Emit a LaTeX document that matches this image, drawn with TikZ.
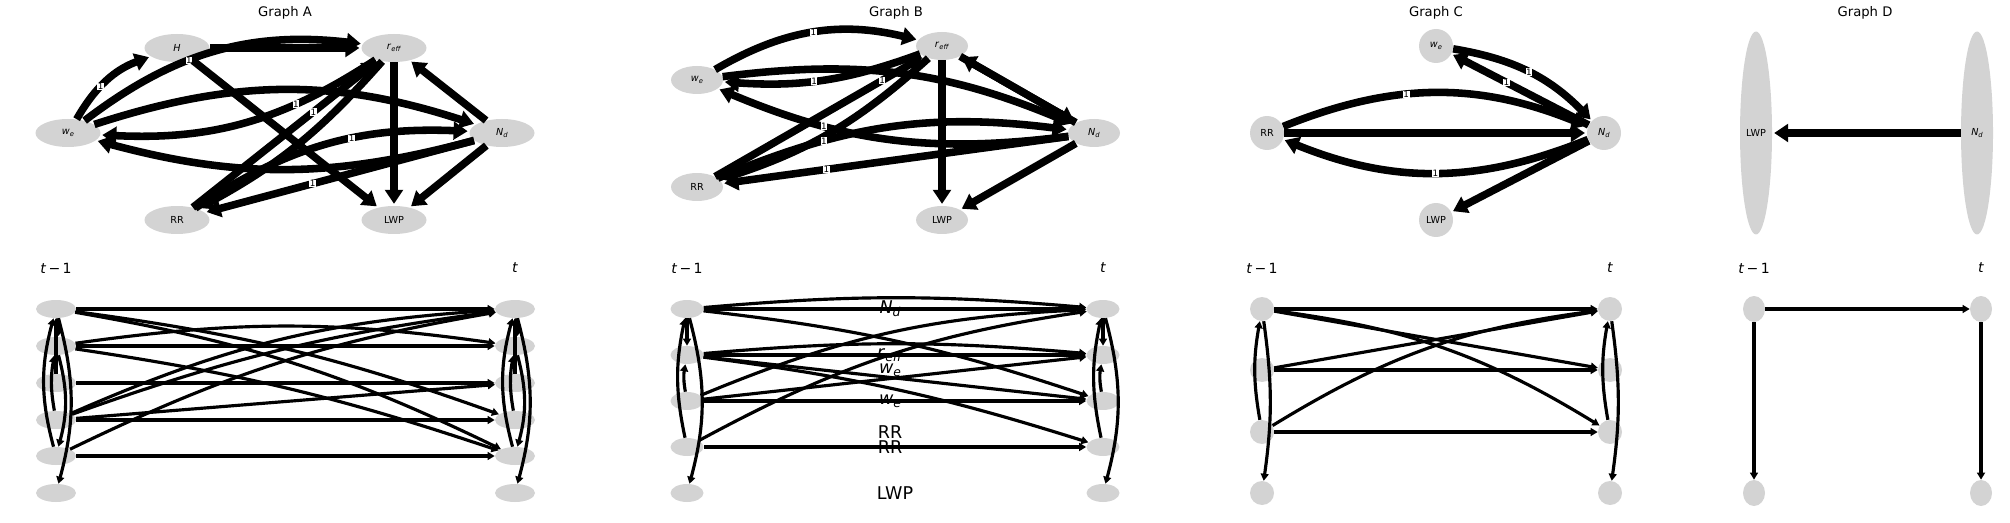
\documentclass[tikz,border=0pt]{standalone}
\usepackage{fontspec}
\setmainfont{DejaVu Sans}
\usetikzlibrary{arrows.meta,shapes.geometric}
\definecolor{ng}{RGB}{211,211,211}
\newcommand{\vsub}[2]{\textit{#1}\raisebox{-0.35ex}{\fontsize{0.7em}{1em}\selectfont\textit{#2}}}
\newcommand{\tm}{\textit{t}\,−\,1}
\tikzset{
 nd/.style={ellipse,fill=ng,inner sep=0pt,minimum width=1.3cm,minimum height=0.56cm,font=\fontsize{5.5}{6}\selectfont},
 cn/.style={circle,fill=ng,inner sep=0pt,minimum size=0.68cm,font=\fontsize{5.5}{6}\selectfont},
 sn/.style={ellipse,fill=ng,inner sep=0pt,minimum width=0.8cm,minimum height=0.36cm},
 scn/.style={circle,fill=ng,inner sep=0pt,minimum size=0.48cm},
 ttl/.style={font=\fontsize{7.5}{9}\selectfont},
 tl/.style={font=\fontsize{8}{9}\selectfont},
 ml/.style={font=\fontsize{10}{11}\selectfont},
 big/.style={line width=4.3pt,-{Triangle[length=8pt,width=10pt]},shorten >=1pt},
 thin/.style={line width=1.8pt,-{Triangle[length=4pt,width=4.5pt]}},
 one/.style={fill=white,inner sep=0.3pt,font=\fontsize{5}{5}\selectfont},
}
\begin{document}
\begin{tikzpicture}[x=0.02cm,y=-0.02cm]
\useasboundingbox (0,0) rectangle (2010,523);
% ---------- Graph A
\node[ttl] at (285,13) {Graph A};
\node[nd] (aH) at (177,48) {\textit{H}};
\node[nd] (aR) at (394,48) {\vsub{r}{eff}};
\node[nd] (aW) at (68,133) {\vsub{w}{e}};
\node[nd] (aN) at (502,133) {\vsub{N}{d}};
\node[nd] (aRR) at (177,220) {RR};
\node[nd] (aL) at (394,220) {LWP};
\draw[big] (aH) -- (aR);
\draw[big] (aW) to[bend left=20] node[one,pos=0.4]{1} (aH);
\draw[big] (aW) to[bend left=22] node[one,pos=0.4]{1} (aR);
\draw[big] (aW) to[bend left=18] (aN);
\draw[big] (aR) to[bend left=18] node[one,pos=0.3]{1} (aW);
\draw[big] (aN) to[bend left=15] (aW);
\draw[big] (aH) -- (aL);
\draw[big] (aRR) -- node[one,pos=0.65]{1} (aR);
\draw[big] (aR) to[bend left=10] (aRR);
\draw[big] (aRR) to[bend left=18] node[one,pos=0.6]{1} (aN);
\draw[big] (aN) -- node[one,pos=0.6]{1} (aRR);
\draw[big] (aR) -- (aL);
\draw[big] (aN) -- (aR);
\draw[big] (aN) -- (aL);
% ---------- Graph B
\node[ttl] at (896,13) {Graph B};
\node[nd,minimum width=1.04cm] (bR) at (942,46) {\vsub{r}{eff}};
\node[nd,minimum width=1.04cm] (bW) at (697,80) {\vsub{w}{e}};
\node[nd,minimum width=1.04cm] (bN) at (1094,133) {\vsub{N}{d}};
\node[nd,minimum width=1.04cm] (bRR) at (697,187) {RR};
\node[nd,minimum width=1.04cm] (bL) at (942,220) {LWP};
\draw[big] (bW) to[bend left=22] node[one]{1} (bR);
\draw[big] (bW) to[bend left=15] (bN);
\draw[big] (bR) to[bend left=12] node[one,pos=0.55]{1} (bW);
\draw[big] (bRR) -- node[one,pos=0.8]{1} (bR);
\draw[big] (bR) to[bend left=12] (bRR);
\draw[big] (bR) -- (bL);
\draw[big] (bN) -- (bR);
\draw[big] (bR) -- (bN);
\draw[big] (bRR) to[bend left=15] node[one,pos=0.3]{1} (bN);
\draw[big] (bN) to[bend left=15] node[one,pos=0.7]{1} (bW);
\draw[big] (bN) -- node[one,pos=0.7]{1} (bRR);
\draw[big] (bN) -- (bL);
% ---------- Graph C
\node[ttl] at (1436,13) {Graph C};
\node[cn] (cW) at (1436,46) {\vsub{w}{e}};
\node[cn] (cRR) at (1267,133) {RR};
\node[cn] (cN) at (1604,133) {\vsub{N}{d}};
\node[cn] (cL) at (1436,220) {LWP};
\draw[big] (cW) to[bend left=18] node[one]{1} (cN);
\draw[big] (cN) -- node[one,pos=0.6]{1} (cW);
\draw[big] (cRR) to[bend left=22] node[one,pos=0.4]{1} (cN);
\draw[big] (cRR) -- (cN);
\draw[big] (cN) to[bend left=22] node[one]{1} (cRR);
\draw[big] (cN) -- (cL);
% ---------- Graph D
\node[ttl] at (1865,13) {Graph D};
\node[ellipse,fill=ng,inner sep=0pt,minimum width=0.64cm,minimum height=4.06cm,font=\fontsize{5.5}{6}\selectfont] (dL) at (1756,133) {LWP};
\node[ellipse,fill=ng,inner sep=0pt,minimum width=0.64cm,minimum height=4.06cm,font=\fontsize{5.5}{6}\selectfont] (dN) at (1977,133) {\vsub{N}{d}};
\draw[big] (dN.west) -- (dL.east);
% ---------- bottom A
\node[tl] at (56,268) {\tm};
\node[tl] at (515,268) {\textit{t}};
\foreach \i/\y in {1/309,2/346,3/383,4/420,5/456,6/493}{
 \node[sn] (pL\i) at (56,\y) {};
 \node[sn] (pR\i) at (515,\y) {};}
\foreach \i in {1,...,5} \draw[thin] (pL\i) -- (pR\i);
\draw[thin] (pL1) to[bend left=8] (pR5);
\draw[thin] (pL1) to[bend left=6] (pR4);
\draw[thin] (pL2) to[bend left=8] (pR2);
\draw[thin] (pL2) to[bend left=5] (pR5);
\draw[thin] (pL4) -- (pR3);
\draw[thin] (pL4) to[bend left=10] (pR1);
\draw[thin] (pL4) to[bend left=6] (pR1);
\draw[thin] (pL5) to[bend left=8] (pR1);
\foreach \s in {L,R}{
 \draw[thin] (p\s3) -- (p\s1);
 \draw[thin] (p\s2) -- (p\s1);
 \draw[thin] (p\s1) to[bend left=10] (p\s2);
 \draw[thin] (p\s4) to[bend left=10] (p\s2);
 \draw[thin] (p\s5) to[bend left=15] (p\s1);
 \draw[thin] (p\s1) to[bend left=15] (p\s6);
 \draw[thin] (p\s2) to[bend left=15] (p\s5);}
% ---------- bottom B
\node[tl] at (687,268) {\tm};
\node[tl] at (1103,268) {\textit{t}};
\foreach \i/\y in {1/309,2/355,3/401,4/447,5/493}{
 \node[sn,minimum width=0.66cm] (qL\i) at (687,\y) {};
 \node[sn,minimum width=0.66cm] (qR\i) at (1103,\y) {};}
\foreach \i in {1,...,4} \draw[thin] (qL\i) -- (qR\i);
\draw[thin] (qL1) to[bend left=5] (qR1);
\draw[thin] (qL1) to[bend left=6] (qR3);
\draw[thin] (qL2) to[bend left=5] (qR4);
\draw[thin] (qL2) to[bend left=5] (qR2);
\draw[thin] (qL2) -- (qR3);
\draw[thin] (qL3) -- (qR2);
\draw[thin] (qL3) to[bend left=10] (qR1);
\draw[thin] (qL4) to[bend left=10] (qR1);
\foreach \s in {L,R}{
 \draw[thin] (q\s1) -- (q\s2);
 \draw[thin] (q\s3) to[bend left=10] (q\s2);
 \draw[thin] (q\s4) to[bend left=12] (q\s1);
 \draw[thin] (q\s1) to[bend left=15] (q\s5);}
\node[ml] at (890,309) {\vsub{N}{d}};
\node[ml] at (890,355) {\vsub{r}{eff}};
\node[ml] at (890,370) {\vsub{w}{e}};
\node[ml] at (890,401) {\vsub{w}{e}};
\node[ml] at (890,432) {RR};
\node[ml] at (890,447) {RR};
\node[ml] at (895,493) {LWP};
% ---------- bottom C
\node[tl] at (1262,268) {\tm};
\node[tl] at (1610,268) {\textit{t}};
\foreach \i/\y in {1/309,2/370,3/432,4/493}{
 \node[scn] (rL\i) at (1262,\y) {};
 \node[scn] (rR\i) at (1610,\y) {};}
\draw[thin] (rL1) -- (rR1);
\draw[thin] (rL1) -- (rR2);
\draw[thin] (rL1) to[bend left=12] (rR3);
\draw[thin] (rL2) -- (rR2);
\draw[thin] (rL2) -- (rR1);
\draw[thin] (rL3) to[bend left=12] (rR1);
\draw[thin] (rL3) -- (rR3);
\foreach \s in {L,R}{
 \draw[thin] (r\s3) to[bend left=10] (r\s1);
 \draw[thin] (r\s1) to[bend left=8] (r\s4);}
% ---------- bottom D
\node[tl] at (1754,268) {\tm};
\node[tl] at (1981,268) {\textit{t}};
\tikzset{dn/.style={ellipse,fill=ng,inner sep=0pt,minimum width=0.44cm,minimum height=0.52cm}}
\node[dn] (sL1) at (1754,309) {};
\node[dn] (sR1) at (1981,309) {};
\node[dn] (sL2) at (1754,493) {};
\node[dn] (sR2) at (1981,493) {};
\draw[thin] (sL1) -- (sR1);
\draw[thin] (sL1) -- (sL2);
\draw[thin] (sR1) -- (sR2);
\end{tikzpicture}
\end{document}
